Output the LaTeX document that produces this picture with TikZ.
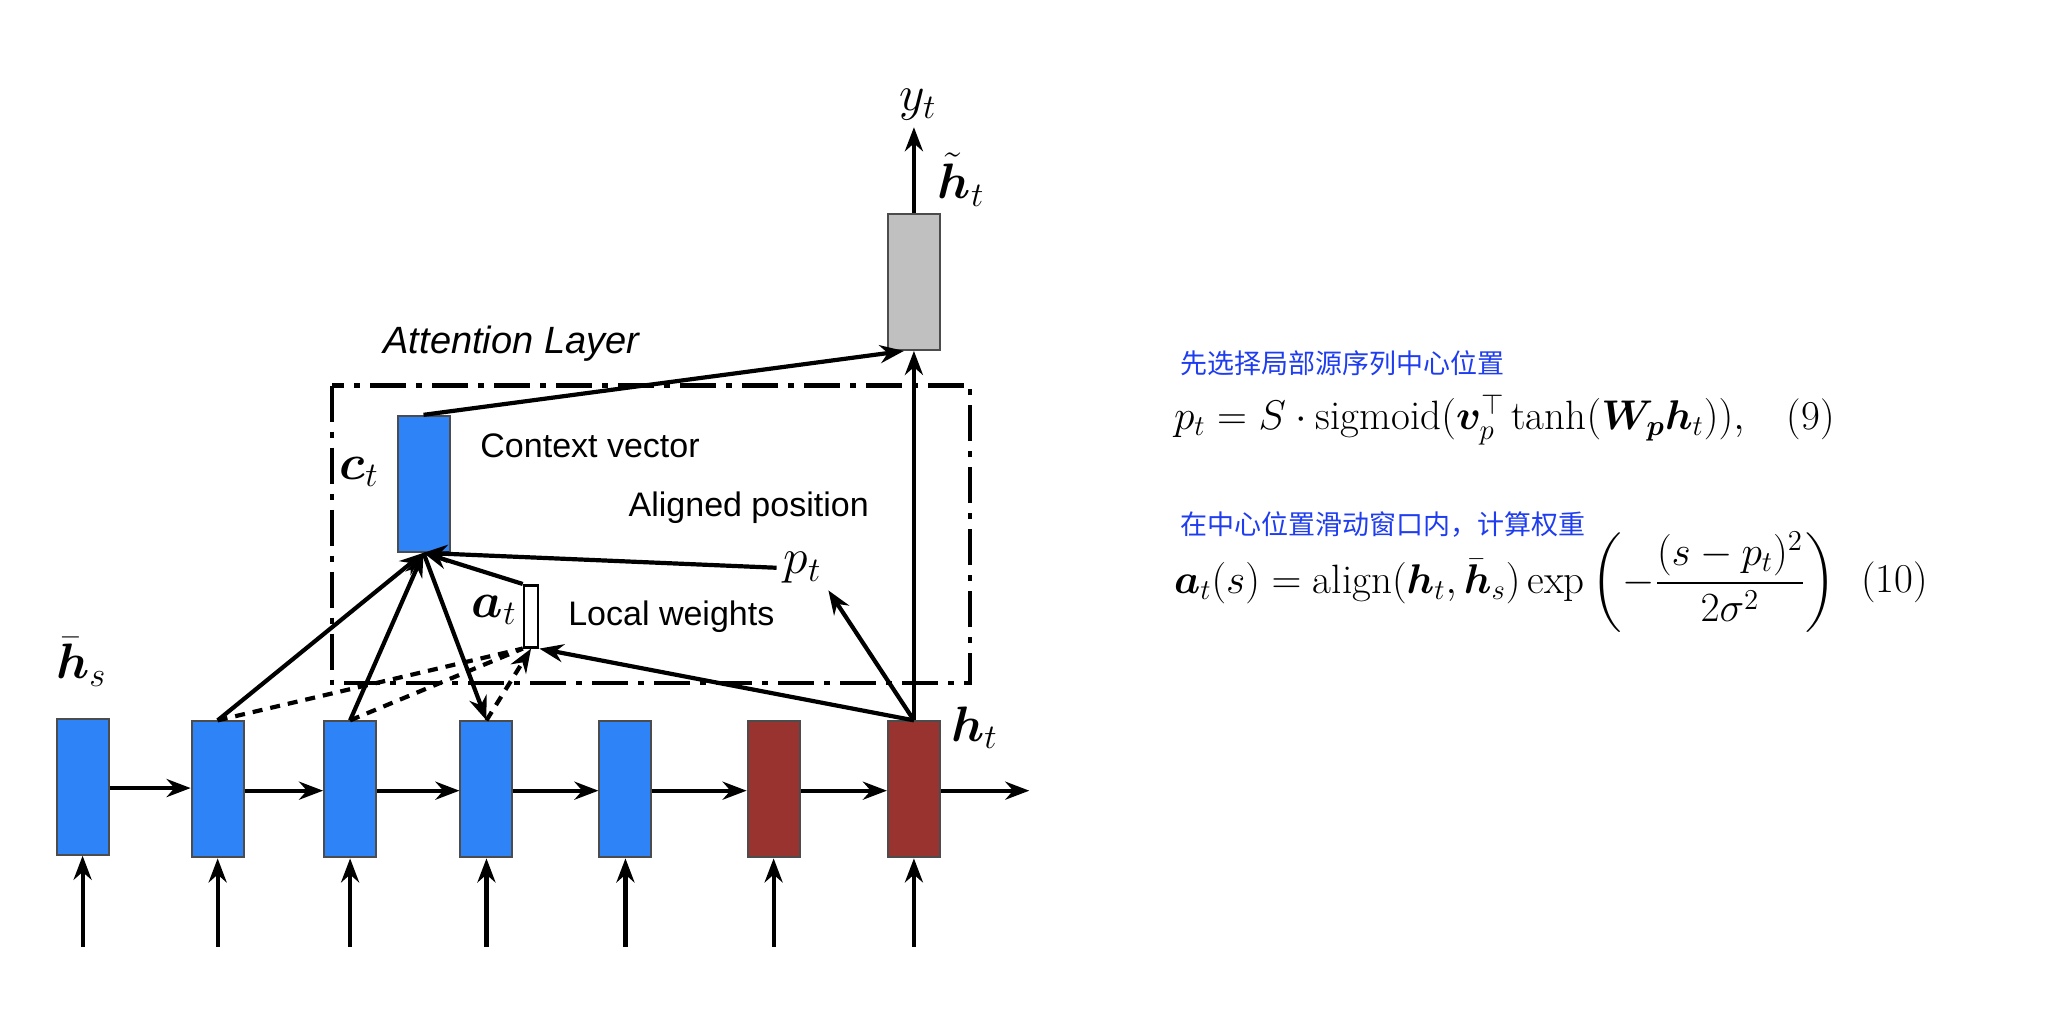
\documentclass[tikz,border=0pt]{standalone}
\usepackage{amsmath,bm}
\usepackage{fontspec}
\newfontfamily\labf{Liberation Sans}
\newfontfamily\cjk{Noto Sans CJK SC}
\usetikzlibrary{arrows.meta}
\definecolor{bl}{RGB}{46,131,246}
\definecolor{rd}{RGB}{152,51,48}
\definecolor{gr}{RGB}{192,192,192}
\definecolor{cb}{RGB}{30,60,240}
\begin{document}
\begin{tikzpicture}[x=0.6555pt,y=-0.6555pt,
  cell/.style={draw=black!70,line width=1pt,minimum width=26pt,minimum height=68pt,inner sep=0},
  ar/.style={line width=2.1pt,-{Stealth[length=12pt,width=9pt]}},
  da/.style={line width=2.1pt,dash pattern=on 5pt off 4pt},
  lab/.style={font=\labf\fontsize{17}{20}\selectfont},
  mth/.style={font=\fontsize{24}{28}\selectfont},
  eq/.style={font=\fontsize{20.5}{24}\selectfont}]
\useasboundingbox (0,0) rectangle (1568,769);
% bottom row
\node[cell,fill=bl] (b0) at (63,600) {};
\node[cell,fill=bl] (b1) at (166,602) {};
\node[cell,fill=bl] (b2) at (267,602) {};
\node[cell,fill=bl] (b3) at (371,602) {};
\node[cell,fill=bl] (b4) at (477,602) {};
\node[cell,fill=rd] (b5) at (590,602) {};
\node[cell,fill=rd] (b6) at (697,602) {};
\node[cell,fill=gr] (g) at (697,215) {};
\node[cell,fill=bl] (c) at (323,369) {};
\node[draw,line width=1.3pt,minimum width=7pt,minimum height=31pt,inner sep=0] (a) at (405,470) {};
% attention box
\draw[line width=2.1pt,dash pattern=on 18pt off 5pt on 3pt off 5pt] (253,294) rectangle (740,521);
% chain
\draw[ar] (b0.east|-0,601) -- (b1.west|-0,601);
\draw[ar] (b1.east|-0,603) -- (b2.west|-0,603);
\draw[ar] (b2.east|-0,603) -- (b3.west|-0,603);
\draw[ar] (b3.east|-0,603) -- (b4.west|-0,603);
\draw[ar] (b4.east|-0,603) -- (b5.west|-0,603);
\draw[ar] (b5.east|-0,603) -- (b6.west|-0,603);
\coordinate (out) at (785,603);
\draw[ar] (b6.east|-0,603) -- (out);
% inputs
\foreach \n/\x in {b0/63,b1/166,b2/267,b3/371,b4/477,b5/590,b6/697}{
  \coordinate (i\n) at (\x,722);
  \draw[ar] (i\n) -- (\n.south);}
% upper
\coordinate (yt) at (697,97);
\draw[ar] (g.north) -- (yt);
\draw[ar] (b6.north) -- (g.south);
\draw[ar] (c.north) -- ([xshift=-5pt]g.south);
\node[mth] (p) at (612,433) {$p_t$};
\draw[ar] (p.west) -- (c.south);
\draw[ar] (b1.north) -- (c.south);
\draw[ar] (b2.north) -- (c.south);
\draw[ar] (a.north west) -- (c.south);
\draw[ar] (c.south) -- (b3.north);
\draw[ar] (b6.north) -- (p.south east);
\draw[ar] (b6.north) -- (a.south east);
\draw[da] (b1.north) -- (a.south west);
\draw[da] (b2.north) -- (a.south west);
\draw[da,-{Stealth[length=12pt,width=9pt]}] (b3.north) -- (a.south);
% labels
\node[mth] (hs) at (62,505) {$\bar{\bm h}_s$};
\node[mth] (ct) at (274,360) {$\bm c_t$};
\node[mth] (at) at (377,465) {$\bm a_t$};
\node[mth] (ht) at (743,555) {$\bm h_t$};
\node[mth] (htl) at (733,137) {$\tilde{\bm h}_t$};
\node[mth] (ytl) at (700,80) {$y_t$};
\node[lab] (cv) at (450,340) {Context vector};
\node[lab] (ap) at (571,387) {Aligned position};
\node[lab] (lw) at (512,470) {Local weights};
\node[font=\labf\fontsize{19}{22}\selectfont\itshape] (al) at (390,262) {Attention Layer};
% equations
\node[anchor=west,text=cb,font=\cjk\fontsize{13.5}{16}\selectfont] (c1) at (895,277) {先选择局部源序列中心位置};
\node[anchor=west,text=cb,font=\cjk\fontsize{13.5}{16}\selectfont] (c2) at (895,400) {在中心位置滑动窗口内，计算权重};
\node[anchor=west,eq] (e9) at (890,320) {$p_t = S\cdot \mathrm{sigmoid}(\bm v_p^{\top}\tanh(\bm W_{\bm p}\bm h_t)),$};
\node[eq] (n9) at (1381,320) {(9)};
\node[anchor=west,eq] (e10) at (890,444) {$\bm a_t(s) = \mathrm{align}(\bm h_t,\bar{\bm h}_s)\exp\left(-\dfrac{(s-p_t)^2}{2\sigma^2}\right)$};
\node[eq] (n10) at (1445,444) {(10)};
\end{tikzpicture}
\end{document}
